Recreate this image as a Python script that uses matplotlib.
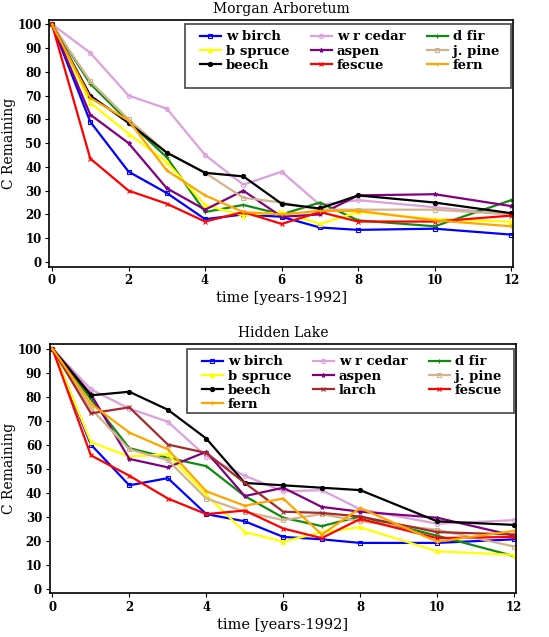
import matplotlib
matplotlib.use("Agg")
import matplotlib.pyplot as plt
from matplotlib.patches import Rectangle

plt.rcParams["font.family"] = "DejaVu Serif"
plt.rcParams["font.weight"] = "bold"
plt.rcParams["font.size"] = 8.5

years = [0, 1, 2, 3, 4, 5, 6, 7, 8, 10, 12]

# Morgan Arboretum
ma_w_birch = [100, 59, 38, 29, 18, 20, 19, 14.5, 13.5, 14, 11.5]
ma_w_r_cedar = [100, 88, 70, 64.5, 45, 32.5, 38, 24, 26, 23, 20]
ma_d_fir = [100, 75, 59, 44, 21, 24, 20, 25, 17.5, 15, 26]
ma_b_spruce = [100, 67, 54, 42, 24, 19.5, 21, 16, 21, 18, 17]
ma_aspen = [100, 62, 50, 31, 22, 30, 19, 20, 28, 28.5, 23.5]
ma_j_pine = [100, 76, 60, 46, 37.5, 27, 25, 22, 22, 22, 20]
ma_beech = [100, 70, 58.5, 46, 37.5, 36, 24.5, 22.5, 28, 25, 20.5]
ma_fescue = [100, 43.5, 30, 24.5, 17, 21, 16, 21, 17, 17, 19.5]
ma_fern = [100, 69, 59.5, 38.5, 28, 21, 20, 21.5, 21.5, 17.5, 15]

# Hidden Lake
hl_w_birch = [100, 60, 43, 46, 31, 28, 21.5, 20.5, 19, 19, 20.5]
hl_w_r_cedar = [100, 83, 75, 69.5, 55, 47, 40.5, 41, 33, 27, 28.5]
hl_d_fir = [100, 79, 58.5, 54.5, 51, 38.5, 29.5, 26, 30, 22, 13.5]
hl_b_spruce = [100, 61, 55, 56, 39, 23.5, 19.5, 23.5, 25.5, 15.5, 14]
hl_aspen = [100, 81, 54, 50.5, 57, 38.5, 42, 34, 32, 29.5, 22]
hl_j_pine = [100, 75, 58, 53.5, 37.5, 32, 28.5, 31, 28, 24.5, 17.5]
hl_beech = [100, 80.5, 82, 74.5, 62.5, 44, 43, 42, 41, 28, 26.5]
hl_larch = [100, 73, 75.5, 60, 56.5, 44, 32, 31.5, 30, 23.5, 22.5]
hl_fescue = [100, 55.5, 47, 37.5, 31, 32.5, 25, 21, 29, 21, 21.5]
hl_fern = [100, 77, 65, 58, 40.5, 34.5, 37.5, 22.5, 33.5, 19.5, 24]

styles = {
    "w birch": ("#0000ff", "s", "none"),
    "w r cedar": ("#dda0dd", "o", "none"),
    "d fir": ("#108a10", "+", None),
    "b spruce": ("#ffff00", "^", None),
    "aspen": ("#800080", "*", None),
    "j. pine": ("#d2b48c", "s", "none"),
    "beech": ("#000000", "o", None),
    "larch": ("#a52a2a", "x", None),
    "fescue": ("#ff0000", "x", None),
    "fern": ("#ffa500", "+", None),
}

ma_series = [("w birch", ma_w_birch), ("w r cedar", ma_w_r_cedar), ("d fir", ma_d_fir),
             ("b spruce", ma_b_spruce), ("aspen", ma_aspen), ("j. pine", ma_j_pine),
             ("beech", ma_beech), ("fescue", ma_fescue), ("fern", ma_fern)]
hl_series = [("w birch", hl_w_birch), ("w r cedar", hl_w_r_cedar), ("d fir", hl_d_fir),
             ("b spruce", hl_b_spruce), ("aspen", hl_aspen), ("j. pine", hl_j_pine),
             ("beech", hl_beech), ("larch", hl_larch), ("fescue", hl_fescue),
             ("fern", hl_fern)]

fig = plt.figure(figsize=(5.49, 6.37), dpi=100)
ax1 = fig.add_axes([0.0898, 0.5813, 0.845, 0.3873])
ax2 = fig.add_axes([0.0905, 0.0686, 0.8495, 0.391])


def draw(ax, series, title, box):
    handles = []
    for name, vals in series:
        col, mk, mfc = styles[name]
        ln, = ax.plot(years, vals, color=col, lw=1.6, marker=mk, ms=3,
                      mfc=mfc if mfc else col, mew=0.8, label=name)
        handles.append(ln)
    # legend filled row by row
    order = [i for c in range(3) for i in range(c, len(handles), 3)]
    ax.legend([handles[i] for i in order], [handles[i].get_label() for i in order],
              ncol=3, loc="upper left", bbox_to_anchor=(box[0] + 0.02, box[1] - 0.005),
              frameon=False, handlelength=1.6, handletextpad=0.4,
              columnspacing=1.6, labelspacing=0.08, borderaxespad=0,
              fontsize=9.5)
    ax.add_patch(Rectangle((box[0], box[2]), box[3] - box[0], box[1] - box[2],
                           transform=ax.transAxes, fill=False, ec="#444444", lw=1.2))
    ax.set_xlim(-0.07, 12.05)
    ax.set_ylim(-2, 101.8)
    ax.set_xticks([0, 2, 4, 6, 8, 10, 12])
    ax.set_yticks(range(0, 101, 10))
    ax.tick_params(direction="out", length=3, labelsize=8.5, pad=2.5)
    ax.set_title(title, fontsize=10, pad=5)
    ax.set_ylabel("C Remaining", fontsize=10)
    ax.yaxis.set_label_coords(-0.072, 0.5)
    ax.set_xlabel("time [years-1992]", fontsize=10.5)
    ax.xaxis.set_label_coords(0.5, -0.1)
    for s in ax.spines.values():
        s.set_linewidth(1.2)


draw(ax1, ma_series, "Morgan Arboretum", (0.2925, 0.984, 0.724, 0.995))
draw(ax2, hl_series, "Hidden Lake", (0.2944, 0.981, 0.724, 0.9957))

fig.savefig("out.png", dpi=100)
